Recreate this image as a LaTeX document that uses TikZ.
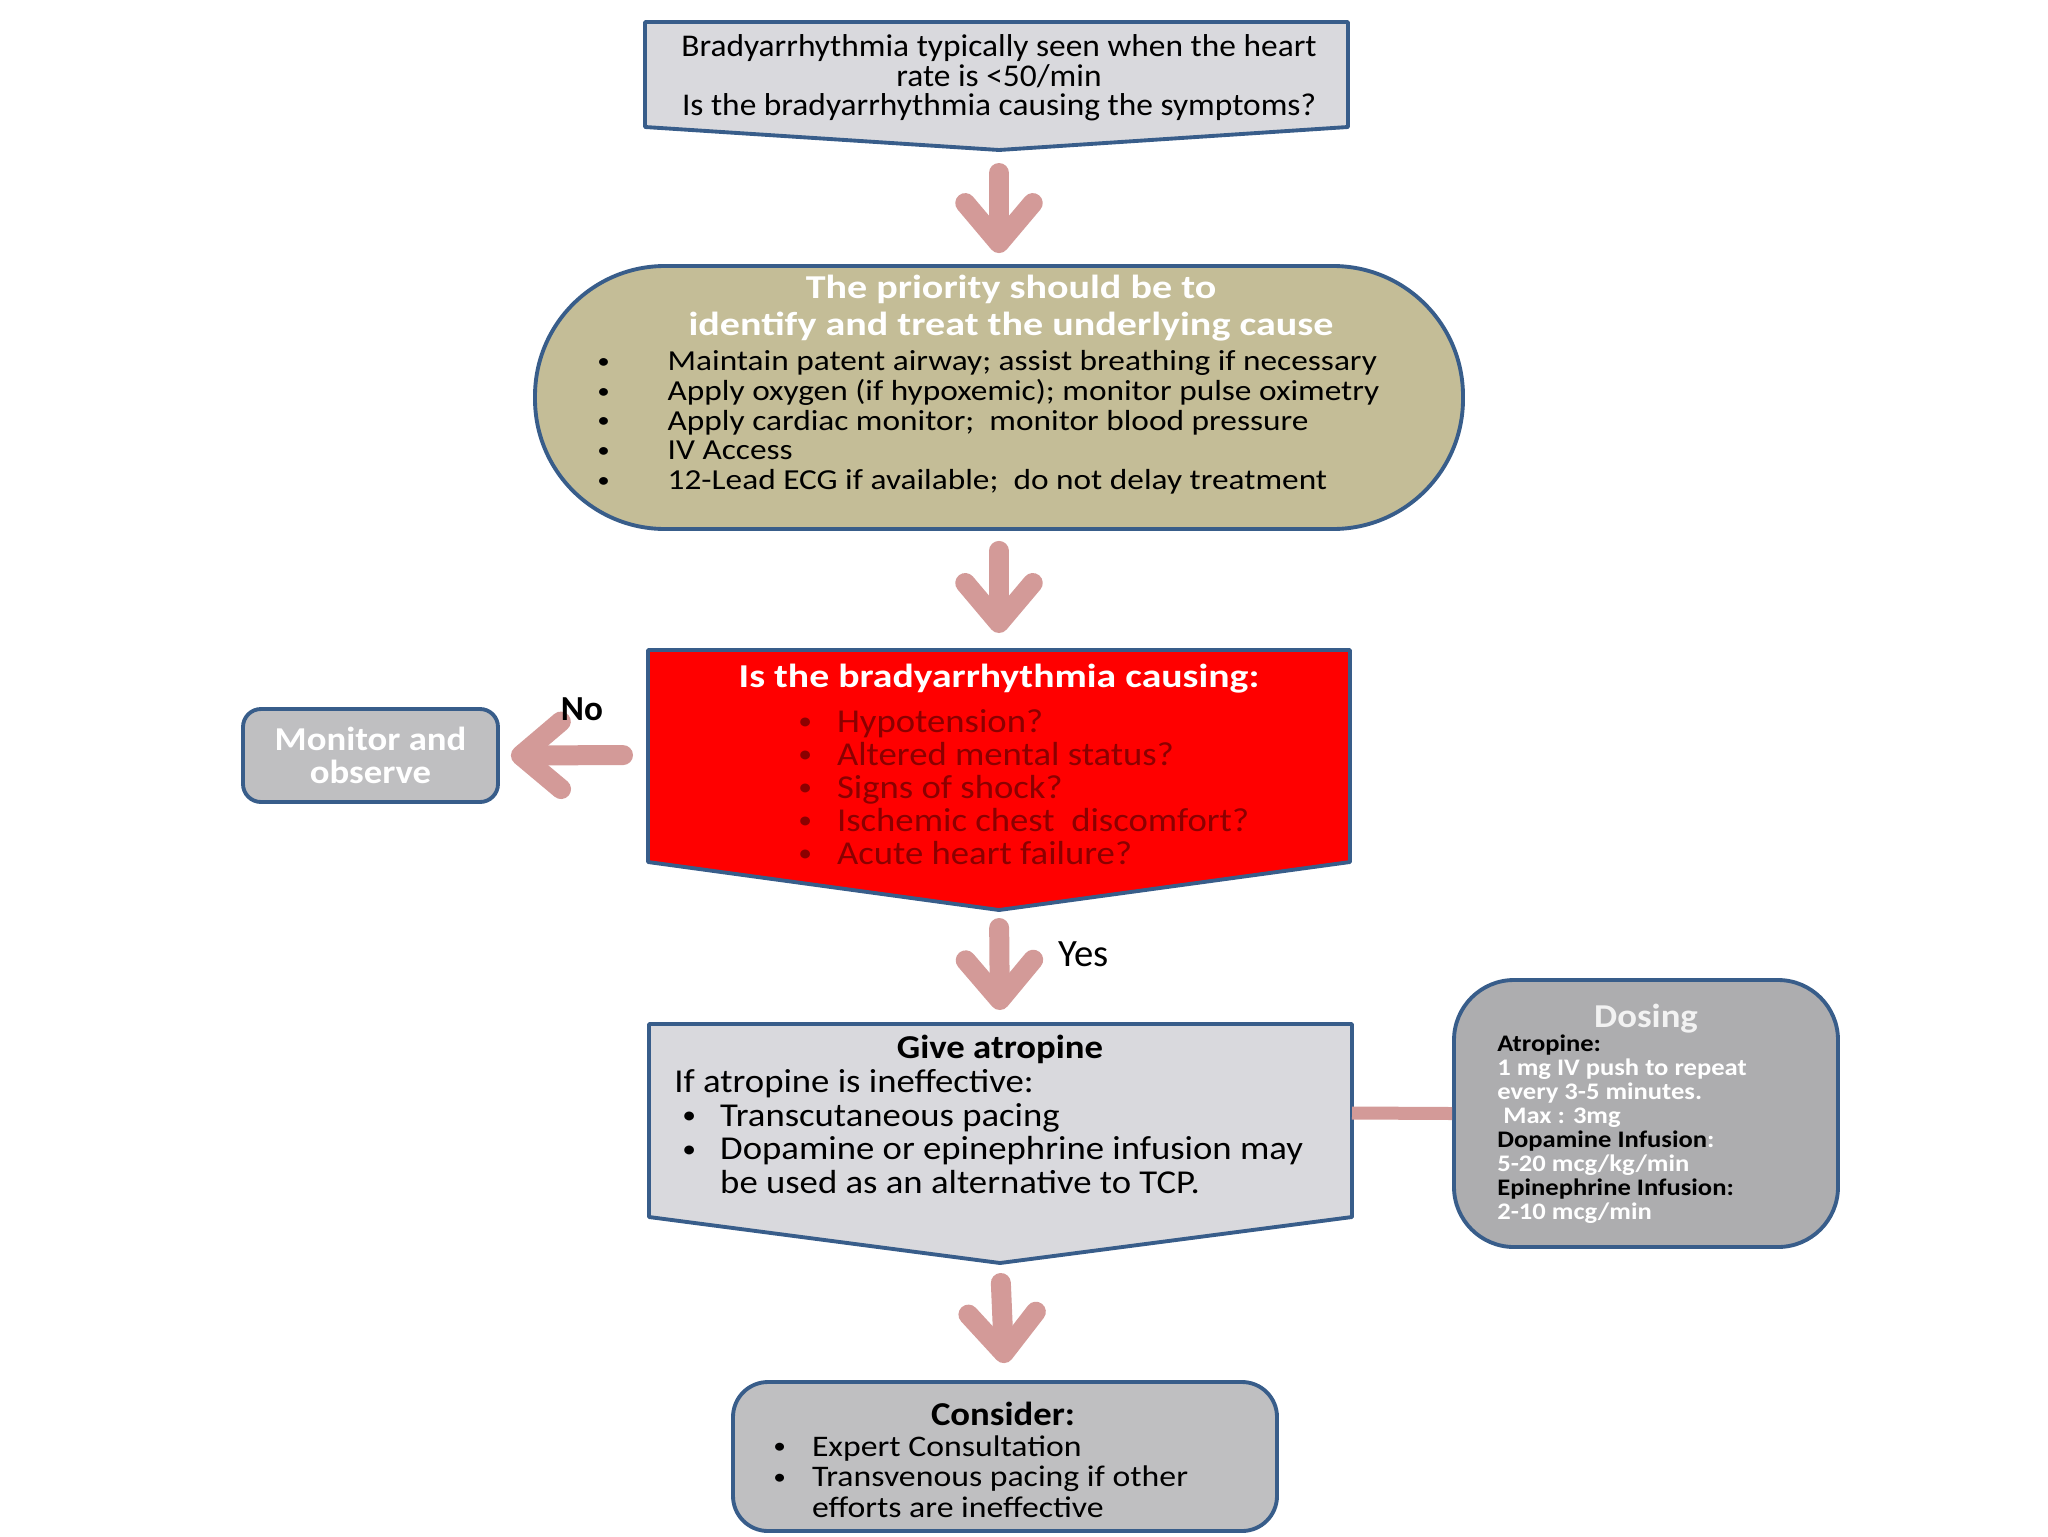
\documentclass[tikz,border=0pt]{standalone}
\usepackage{fontspec}
\setmainfont{Carlito}
\usetikzlibrary{arrows.meta}
\tikzset{>={Straight Barb[length=8mm,width=13.5mm,round]}}
\definecolor{frame}{HTML}{385D8A}
\definecolor{tan1}{HTML}{C4BD97}
\definecolor{grey1}{HTML}{D9D9DD}
\definecolor{grey2}{HTML}{BFBFC1}
\definecolor{grey3}{HTML}{ADADAF}
\definecolor{pink1}{HTML}{D39A98}
\definecolor{dred}{HTML}{8B0000}
\def\px{0.2mm}
\newcommand{\bl}[1]{\makebox[#1][l]{\raisebox{0.08em}{\scalebox{0.75}{\textbullet}}}}
\newcommand{\wide}[1]{\addfontfeatures{FakeStretch=#1}}
\tikzset{
  box/.style={draw=frame,line width=2.2pt,line join=round},
  flow/.style={->,pink1,line width=4mm,line cap=round},
  txt/.style={inner sep=0pt,align=left,anchor=west}
}

\begin{document}
\begin{tikzpicture}[x=\px,y=-\px]
  \fill[white] (0,0) rectangle (2048,1536);
  \useasboundingbox (0,0) rectangle (2048,1536);
  % question
  \draw[box,fill=grey1] (645,22) -- (1348,22) -- (1348,127) -- (999,150) -- (645,127) -- cycle;
  \coordinate (qtip) at (999,150);
  \node[align=center,inner sep=0pt,font=\fontsize{18}{16.7}\selectfont\wide{1.056}] (quest) at (999,78)
    {Bradyarrhythmia typically seen when the heart\\rate is <50/min\\Is the bradyarrhythmia causing the symptoms?};
  % priority
  \node[box,fill=tan1,rounded corners=26mm,minimum width=928*\px,minimum height=263*\px] (care) at (999,397.5) {};
  \node[align=center,inner sep=0pt,text=white,font=\bfseries\fontsize{19}{20.8}\selectfont\wide{1.2}] (prio) at (1011,308)
    {The priority should be to\\identify and treat the underlying cause};
  \node[txt,font=\fontsize{16.5}{16.9}\selectfont\wide{1.15}] (steps) at (597,422.5)
    {\bl{40pt}Maintain patent airway; assist breathing if necessary\\
     \bl{40pt}Apply oxygen (if hypoxemic); monitor pulse oximetry\\
     \bl{40pt}Apply cardiac monitor;\ \ monitor blood pressure\\
     \bl{40pt}IV Access\\
     \bl{40pt}12-Lead ECG if available;\ \ do not delay treatment};
  % decision
  \draw[box,fill=red] (648,650) -- (1350,650) -- (1350,862) -- (999,910) -- (648,862) -- cycle;
  \coordinate (ctop) at (999,650);
  \coordinate (cleft) at (648,755);
  \coordinate (ctip) at (999,910);
  \node[inner sep=0pt,text=white,font=\bfseries\fontsize{19}{20}\selectfont\wide{1.19}] (cause) at (999,679)
    {Is the bradyarrhythmia causing:};
  \node[txt,text=dred,font=\fontsize{19}{18.8}\selectfont\wide{1.1}] (signs) at (798,787)
    {\bl{22pt}Hypotension?\\
     \bl{22pt}Altered mental status?\\
     \bl{22pt}Signs of shock?\\
     \bl{22pt}Ischemic chest\ \ discomfort?\\
     \bl{22pt}Acute heart failure?};
  % no branch
  \node[box,fill=grey2,rounded corners=3.6mm,minimum width=255*\px,minimum height=93*\px,
        align=center,text=white,font=\bfseries\fontsize{19}{18.6}\selectfont\wide{1.1}] (mon) at (370.5,755.5)
    {Monitor and\\observe};
  % atropine
  \draw[box,fill=grey1] (649,1024) -- (1352,1024) -- (1352,1217) -- (1000,1263) -- (649,1217) -- cycle;
  \coordinate (gtop) at (1000,1024);
  \coordinate (gright) at (1352,1113);
  \coordinate (gtip) at (1000,1263);
  \node[inner sep=0pt,font=\bfseries\fontsize{19}{20}\selectfont\wide{1.1}] (give) at (1000,1049) {Give atropine};
  \node[txt,font=\fontsize{19}{19.2}\selectfont\wide{1.1}] (pace) at (674,1131.5)
    {If atropine is ineffective:\\
     \hspace{4.5pt}\bl{21.6pt}Transcutaneous pacing\\
     \hspace{4.5pt}\bl{21.6pt}Dopamine or epinephrine infusion may\\
     \hspace{26.1pt}be used as an alternative to TCP.};
  % dosing
  \node[box,fill=grey3,rounded corners=12mm,minimum width=384*\px,minimum height=267*\px] (dose) at (1646,1113.5) {};
  \node[inner sep=0pt,text=white!95!black,font=\bfseries\fontsize{19}{20}\selectfont\wide{1.1}] (dtitle) at (1646,1019) {Dosing};
  \node[txt,font=\bfseries\fontsize{13.5}{13.7}\selectfont\wide{1.12}] (dlist) at (1497,1129)
    {Atropine:\\
     \textcolor{white}{1 mg IV push to repeat}\\
     \textcolor{white}{every 3-5 minutes.}\\
     \textcolor{white}{\ Max : 3mg}\\
     Dopamine Infusion\textcolor{white}{:}\\
     \textcolor{white}{5-20 mcg/kg/min}\\
     Epinephrine Infusion:\\
     \textcolor{white}{2-10 mcg/min}};
  % consider
  \node[box,fill=grey2,rounded corners=7mm,minimum width=544*\px,minimum height=149*\px] (cons) at (1005,1456.5) {};
  \node[inner sep=0pt,font=\bfseries\fontsize{19}{20}\selectfont\wide{1.1}] (ctitle) at (1003,1414) {Consider:};
  \node[txt,font=\fontsize{17}{17.4}\selectfont\wide{1.13}] (expert) at (773,1476.5)
    {\bl{22pt}Expert Consultation\\
     \bl{22pt}Transvenous pacing if other\\
     \hspace{22pt}efforts are ineffective};
  % arrows
  \draw[flow,shorten <=4.6mm,shorten >=2.2mm] (qtip) -- (care.north);
  \draw[flow,shorten <=4mm,shorten >=3.4mm] (care.south) -- (ctop);
  \draw[flow,shorten <=5mm,shorten >=2.2mm] (cleft) -- (mon.east)
    node[midway,above=3.8mm,xshift=1.6mm,black,font=\bfseries\fontsize{20}{20}\selectfont] {No};
  \draw[flow,shorten <=3.6mm,shorten >=2.8mm] (ctip) -- (gtop)
    node[midway,right=8.6mm,yshift=2.6mm,black,font=\fontsize{22}{22}\selectfont] {Yes};
  \draw[flow,shorten <=4mm,shorten >=3.4mm] (gtip) -- (cons.north);
  \draw[pink1,line width=2.6mm] (gright) -- (dose.west);
\end{tikzpicture}
\end{document}
